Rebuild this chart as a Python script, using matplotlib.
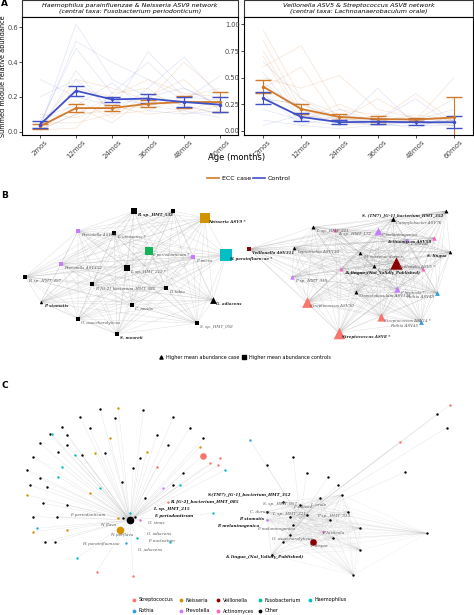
import matplotlib
matplotlib.use("Agg")
import matplotlib.pyplot as plt
from matplotlib.patches import Rectangle
import itertools

plt.rcParams['font.family'] = ['DejaVu Sans']
ages = ["2mos", "12mos", "24mos", "36mos", "48mos", "60mos"]
ORANGE = "#D27A2C"; BLUE = "#3F51C8"

# Panel A means and error bars
l_ecc = [0.030, 0.135, 0.135, 0.160, 0.170, 0.170]
l_ecc_err = [0.015, 0.025, 0.015, 0.020, 0.035, 0.060]
l_ctl = [0.040, 0.235, 0.185, 0.190, 0.170, 0.155]
l_ctl_err = [0.020, 0.030, 0.015, 0.025, 0.030, 0.045]
r_ecc = [0.415, 0.205, 0.130, 0.110, 0.105, 0.125]
r_ecc_err = [0.060, 0.045, 0.025, 0.030, 0.015, 0.190]
r_ctl = [0.305, 0.130, 0.080, 0.085, 0.080, 0.080]
r_ctl_err = [0.055, 0.040, 0.020, 0.025, 0.030, 0.055]

# a few individual trajectories
l_ecc_ind = [[0.01,0.10,0.12,0.15,0.18,0.14],[0.02,0.25,0.20,0.30,0.22,0.20],[0.05,0.05,0.10,0.12,0.20,0.25],
             [0.00,0.18,0.08,0.22,0.15,0.10],[0.03,0.30,0.25,0.18,0.40,0.22],[0.10,0.08,0.15,0.10,0.12,0.18],
             [0.01,0.02,0.22,0.25,0.10,0.15],[0.02,0.14,0.05,0.20,0.30,0.12]]
l_ctl_ind = [[0.02,0.62,0.30,0.20,0.25,0.15],[0.05,0.48,0.22,0.40,0.20,0.18],[0.30,0.20,0.15,0.20,0.15,0.10],
             [0.01,0.35,0.10,0.25,0.43,0.20],[0.08,0.15,0.28,0.12,0.10,0.12],[0.03,0.52,0.40,0.30,0.18,0.32],
             [0.20,0.30,0.12,0.46,0.25,0.15],[0.01,0.10,0.20,0.15,0.12,0.08]]
r_ecc_ind = [[0.95,0.30,0.15,0.10,0.08,0.10],[0.85,0.20,0.10,0.12,0.10,0.12],[0.60,0.80,0.20,0.15,0.10,0.05],
             [0.50,0.40,0.52,0.20,0.12,0.10],[0.75,0.15,0.10,0.30,0.10,0.50],[0.30,0.25,0.12,0.08,0.15,0.10],
             [0.70,0.10,0.25,0.10,0.35,0.08],[0.40,0.60,0.08,0.05,0.10,0.30]]
r_ctl_ind = [[0.55,0.10,0.05,0.08,0.06,0.10],[0.30,0.25,0.10,0.05,0.08,0.05],[0.10,0.05,0.15,0.10,0.12,0.08],
             [0.45,0.20,0.05,0.40,0.05,0.10],[0.20,0.10,0.20,0.08,0.02,0.15],[0.65,0.30,0.10,0.10,0.30,0.05],
             [0.05,0.15,0.08,0.12,0.10,0.20],[0.35,0.05,0.02,0.05,0.05,0.05]]

fig = plt.figure(figsize=(4.74, 6.15), dpi=100)
W, H = 474, 615
def box(x0, y0, x1, y1):
    return [x0/W, 1-y1/H, (x1-x0)/W, (y1-y0)/H]

o = fig.add_axes([0, 0, 1, 1]); o.set_xlim(0, W); o.set_ylim(H, 0); o.axis('off'); o.patch.set_alpha(0)

titles = ["Haemophilus parainfluenzae & Neisseria ASV9 network\n(central taxa: Fusobacterium periodonticum)",
          "Veillonella ASV5 & Streptococcus ASV8 network\n(central taxa: Lachnoanaerobaculum orale)"]
specs = [((22, 238), l_ecc, l_ecc_err, l_ctl, l_ctl_err, l_ecc_ind, l_ctl_ind,
          (-0.02, 0.66), [0, 0.2, 0.4, 0.6], ["0.0", "0.2", "0.4", "0.6"]),
         ((244, 473), r_ecc, r_ecc_err, r_ctl, r_ctl_err, r_ecc_ind, r_ctl_ind,
          (-0.04, 1.07), [0, 0.25, 0.5, 0.75, 1.0], ["0.00", "0.25", "0.50", "0.75", "1.00"])]
x = list(range(len(ages)))
for i, ((x0, x1), e, ee, c, ce, ei, ci, yl, yt, ytl) in enumerate(specs):
    ax = fig.add_axes(box(x0, 17, x1, 135))
    for tr in ei:
        ax.plot(x, tr, color=ORANGE, lw=0.5, alpha=0.2)
    for tr in ci:
        ax.plot(x, tr, color=BLUE, lw=0.5, alpha=0.15)
    ax.errorbar(x, e, yerr=ee, color=ORANGE, lw=1.3, capsize=6, elinewidth=0.8, marker='o', ms=1.5)
    ax.errorbar(x, c, yerr=ce, color=BLUE, lw=1.3, capsize=6, elinewidth=0.8, marker='o', ms=1.5)
    ax.set_xlim(-0.5, 5.5); ax.set_ylim(*yl)
    ax.set_xticks(x); ax.set_xticklabels(ages, rotation=45, fontsize=5, color="#444")
    ax.set_yticks(yt); ax.set_yticklabels(ytl, fontsize=4.8, color="#444")
    ax.tick_params(length=2, width=0.5, pad=1)
    for s in ax.spines.values():
        s.set_linewidth(0.8)
    o.add_patch(Rectangle((x0, 0), x1 - x0, 17, fill=False, lw=0.8, ec='#333'))
    o.text((x0 + x1) / 2, 8.5, titles[i], fontsize=4.6, style='italic', ha='center', va='center',
           linespacing=1.1)

o.text(3.5, 76, "Summed module relative abundance", fontsize=4.7, rotation=90, ha='center', va='center')
o.text(237, 160, "Age (months)", fontsize=6, ha='center')
o.plot([207, 219], [178, 178], color=ORANGE, lw=1.2); o.text(222, 178, "ECC case", fontsize=4.5, va='center')
o.plot([253, 265], [178, 178], color=BLUE, lw=1.2); o.text(268, 178, "Control", fontsize=4.5, va='center')
for lab, y in [("A", 3), ("B", 196), ("C", 385)]:
    o.text(1, y, lab, fontsize=6.5, fontweight='bold', va='center')

COL = {'k': 'black', 'o': '#D39200', 'g': '#13B35A', 'c': '#00BFC4', 'p': '#C77CFF', 'r': '#8B0000',
       'pk': '#FF61C3', 's': '#F8766D', 'b': '#2E9FDF', 'f': '#00C19F'}

# Panel B nodes: name, x, y, color, marker, size, bold
b_left = [("R. sp._HMT_532", 134, 211, 'k', 's', 14, True), ("", 173, 211, 'k', 's', 12, False),
          ("Neisseria ASV9 *", 205, 218, 'o', 's', 60, True), ("Prevotella ASV64", 78, 231, 'p', 's', 10, False),
          ("L. umeaense *", 114, 233, 'k', 's', 12, False), ("F. periodonticum *", 149, 251, 'g', 's', 30, False),
          ("H. parainfluenzae *", 226, 255, 'c', 's', 70, True), ("P. micra", 193, 257, 'p', 's', 12, False),
          ("Prevotella ASV452", 61, 264, 'p', 's', 8, False), ("R. sp._HMT_497", 25, 277, 'k', 's', 6, False),
          ("L. sp._HMT_212 *", 127, 268, 'k', 's', 14, False), ("R. [G-2]_bacterium_HMT_085", 92, 284, 'k', 's', 6, False),
          ("D. tabia", 166, 288, 'k', 's', 8, False), ("G. adiacens", 213, 300, 'k', '^', 24, True),
          ("P. stomatis", 41, 302, 'k', '^', 6, True), ("C. mutlis", 132, 305, 'k', 's', 5, False),
          ("O. asaccharolyticus", 78, 319, 'k', 's', 5, False), ("S. sp._HMT_058", 197, 323, 'k', 's', 5, False),
          ("S. mooreii", 117, 334, 'k', 's', 5, True)]
b_right = [("Veillonella ASV311", 249, 249, 'r', 's', 8, True), ("L. sp._HMT_221", 313, 227, 'k', '^', 8, False),
           ("S. (TM7)_[G-1]_bacterium_HMT_352", 446, 211, 'k', '^', 8, True), ("Campylobacter ASV76", 393, 219, 'k', '^', 12, False),
           ("A. sp._HMT_172", 335, 230, 'pk', '^', 8, False), ("P. melaninogenica", 378, 231, 'p', '^', 30, False),
           ("Actinomyces ASV58", 434, 238, 'pk', '^', 10, True), ("P. salivae", 407, 240, 'p', '^', 10, False),
           ("Leptotrichia ASV130", 294, 248, 'k', '^', 7, False), ("M. micronuciformis", 360, 253, 'k', '^', 7, False),
           ("S. lingua", 450, 252, 'k', '^', 7, True), ("Veillonella ASV5 *", 396, 263, 'r', '^', 80, False),
           ("L. orale", 374, 266, 'k', '^', 8, False), ("A. graevenitzii", 341, 269, 'pk', '^', 8, False),
           ("A. lingua_(Not_Validly_Published)", 423, 269, 'pk', '^', 8, True), ("P. sp._HMT_313", 292, 277, 'p', '^', 10, False),
           ("Stomatobaculum ASV123", 356, 292, 'k', '^', 8, False), ("P. histicola *", 397, 289, 'p', '^', 20, False),
           ("Rothia ASV49", 437, 293, 'b', '^', 12, False), ("Streptococcus ASV30", 307, 302, 's', '^', 60, False),
           ("Streptococcus ASV14 *", 381, 317, 's', '^', 35, False), ("Rothia ASV45", 421, 322, 'b', '^', 12, False),
           ("Streptococcus ASV8 *", 339, 333, 's', '^', 70, True)]

def draw_net(nodes):
    for a, b in itertools.combinations(nodes, 2):
        o.plot([a[1], b[1]], [a[2], b[2]], color='#999', lw=0.3, alpha=0.35, zorder=1)
    for n, xx, yy, c, m, s, bold in nodes:
        o.scatter(xx, yy, s=s, c=COL[c], marker=m, zorder=3, linewidths=0)
        if n:
            right = xx > 415
            o.text(xx - 3 if right else xx + 3, yy + 4, n, fontsize=2.9, family='DejaVu Serif', style='italic',
                   ha='right' if right else 'left', va='center',
                   fontweight='bold' if bold else 'normal', color='#222' if bold else '#555', zorder=4)
draw_net(b_left); draw_net(b_right)
o.scatter([161], [357], marker='^', s=5, c='k'); o.text(166, 357, "Higher mean abundance case", fontsize=3.5, va='center')
o.scatter([244], [357], marker='s', s=5, c='k'); o.text(249, 357, "Higher mean abundance controls", fontsize=3.5, va='center')

# Panel C nodes (x, y in zoom coords, colour code)
c_left = [(300,72,'k'),(240,95,'k'),(185,125,'k'),(150,148,'k'),(270,130,'k'),(200,150,'k'),(120,175,'k'),
          (175,200,'k'),(100,215,'k'),(200,180,'k'),(245,210,'k'),(80,255,'k'),(120,280,'k'),(90,300,'k'),
          (140,305,'k'),(200,360,'k'),(170,395,'k'),(130,355,'k'),(100,395,'k'),(165,470,'k'),(135,470,'k'),
          (345,100,'k'),(430,75,'k'),(520,95,'k'),(570,128,'k'),(610,160,'k'),(470,150,'k'),(505,180,'k'),
          (420,220,'k'),(550,265,'k'),(365,290,'k'),(435,340,'k'),(520,300,'k'),(400,250,'k'),(315,205,'k'),
          (355,68,'o'),(330,160,'o'),(285,205,'o'),(80,330,'o'),(100,440,'o'),(200,435,'o'),(440,200,'o'),
          (600,185,'o'),(270,325,'o'),(360,435,'o'),(355,400,'o'),
          (155,148,'c'),(185,245,'c'),(225,210,'c'),(175,275,'c'),(300,310,'c'),(540,300,'c'),(230,520,'c'),
          (510,470,'c'),(675,255,'c'),(640,385,'c'),(390,385,'c'),(410,460,'f'),
          (608,212,'s'),(630,235,'s'),(655,240,'s'),(470,245,'s'),(660,218,'s'),(290,560,'s'),(400,572,'s'),(505,350,'s'),
          (110,430,'b'),(378,475,'b'),(395,410,'p'),(490,310,'p'),(420,405,'pk'),(390,405,'k'),(405,395,'k'),(370,400,'k')]
c_right = [(750,165,'b'),(880,215,'k'),(800,240,'k'),(920,265,'k'),(985,275,'k'),(1015,300,'k'),(1215,262,'k'),
           (1200,170,'s'),(1310,88,'k'),(1350,60,'s'),(1340,128,'k'),(800,380,'k'),(870,395,'k'),(880,420,'k'),
           (800,405,'p'),(940,470,'r'),(970,440,'pk'),(1045,380,'k'),(1080,430,'k'),(1080,495,'k'),(1060,570,'k'),
           (1280,445,'k'),(850,470,'k'),(815,510,'k'),(960,340,'k'),(990,405,'k'),(900,360,'k'),(1025,330,'k'),
           (850,350,'k'),(920,390,'k'),(870,450,'k'),(1000,460,'k')]
def cx(p): return p[0] / 3
def cy(p): return p[1] / 3 + 385
hubL = (390, 405)
for p in c_left:
    o.plot([cx(p), hubL[0]/3], [cy(p), hubL[1]/3 + 385], color='#aaa', lw=0.25, alpha=0.4, zorder=1)
for a, b in itertools.combinations(c_right[11:], 2):
    o.plot([cx(a), cx(b)], [cy(a), cy(b)], color='#aaa', lw=0.25, alpha=0.25, zorder=1)
for p in c_right[:11]:
    o.plot([cx(p), 900/3], [cy(p), 400/3 + 385], color='#aaa', lw=0.25, alpha=0.4, zorder=1)
for p in c_left + c_right:
    o.scatter(cx(p), cy(p), s=3, c=COL[p[2]], zorder=3, linewidths=0)
o.scatter([hubL[0]/3], [hubL[1]/3 + 385], s=20, c='k', zorder=4)
o.scatter([360/3], [435/3 + 385], s=20, c=COL['o'], zorder=4)
o.scatter([940/3], [470/3 + 385], s=14, c=COL['r'], zorder=4)
o.scatter([608/3], [212/3 + 385], s=14, c=COL['s'], zorder=4)

c_labels = [("R. [G-2]_bacterium_HMT_085", 510, 348, True), ("L. sp._HMT_215", 460, 372, True),
            ("F. periodonticum", 462, 393, True), ("F. periodonticum", 210, 390, False), ("O. sinus", 445, 413, False),
            ("G. adiacens", 440, 447, False), ("F. nucleatum", 445, 469, False), ("H. parainfluenzae", 245, 477, False),
            ("G. adiacens", 415, 495, False), ("N. flava", 300, 420, False), ("N. perflava", 330, 450, False),
            ("S.(TM7)_[G-1]_bacterium_HMT_352", 625, 328, True), ("P. stomatis", 718, 402, True),
            ("P. melaninogenica", 650, 423, True), ("A. lingua_(Not_Validly_Published)", 675, 515, True),
            ("C. durum", 750, 380, False), ("S. sp._HMT_057", 790, 357, False), ("L. sp._HMT_221", 815, 388, False),
            ("P. salivae", 880, 365, False), ("L. orale", 930, 360, False), ("P. sp._HMT_313", 950, 392, False),
            ("F. melaninogenica", 770, 432, False), ("P. histicola", 965, 443, False),
            ("O. asaccharolyticus", 815, 462, False), ("V. dispar", 930, 484, False)]
for t, xx, yy, bold in c_labels:
    o.text(xx/3, yy/3 + 385, t, fontsize=3.0, family='DejaVu Serif', style='italic', va='center',
           fontweight='bold' if bold else 'normal', color='#111' if bold else '#555', zorder=5)

leg = [("Streptococcus", 's', 134, 600), ("Neisseria", 'o', 181, 600), ("Veillonella", 'r', 218, 600),
       ("Fusobacterium", 'f', 260, 600), ("Haemophilus", 'c', 310, 600),
       ("Rothia", 'b', 134, 611), ("Prevotella", 'p', 181, 611), ("Actinomyces", 'pk', 218, 611), ("Other", 'k', 260, 611)]
for t, c, xx, yy in leg:
    o.scatter([xx], [yy], s=3, c=COL[c]); o.text(xx + 5, yy, t, fontsize=3.5, va='center')

fig.savefig("out.png", dpi=100)
